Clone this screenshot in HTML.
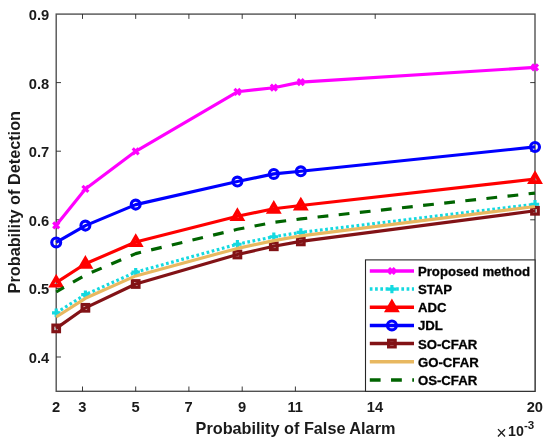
<!DOCTYPE html>
<html><head><meta charset="utf-8"><title>Probability of Detection vs Probability of False Alarm</title>
<style>
html,body{margin:0;padding:0;background:#fff;}
body{width:550px;height:447px;overflow:hidden;}
svg{display:block;}
text{font-family:"Liberation Sans",Arial,Helvetica,sans-serif;font-weight:bold;fill:#1a1a1a;}
.tick{font-size:14.7px;}
.lab{font-size:16.25px;}
.leg{font-size:13.2px;fill:#000;stroke:#000;stroke-width:0.3px;}
</style></head><body>
<svg width="550" height="447" viewBox="0 0 550 447">
<rect width="550" height="447" fill="#fff"/>
<rect x="56.2" y="14.1" width="478.8" height="377.2" fill="none" stroke="#262626" stroke-width="1.4" opacity="0.8"/>
<path d="M82.5 391.3V386.5M82.5 14.1V18.9M135.7 391.3V386.5M135.7 14.1V18.9M188.9 391.3V386.5M188.9 14.1V18.9M242.2 391.3V386.5M242.2 14.1V18.9M295.4 391.3V386.5M295.4 14.1V18.9M375.2 391.3V386.5M375.2 14.1V18.9M56.2 82.6H61.0M535.0 82.6H530.2M56.2 151.2H61.0M535.0 151.2H530.2M56.2 219.8H61.0M535.0 219.8H530.2M56.2 288.4H61.0M535.0 288.4H530.2M56.2 357.0H61.0M535.0 357.0H530.2" stroke="#262626" stroke-width="1" fill="none" opacity="0.9"/>
<polyline points="56.2,225.3 85.4,188.9 135.7,151.3 237.4,91.8 273.8,87.7 300.8,82.1 535.0,67.4" fill="none" stroke="#ff00ff" stroke-width="3.15" stroke-linejoin="round"/>
<path d="M53.23 222.33L59.17 228.27M53.23 228.27L59.17 222.33" stroke="#ff00ff" stroke-width="3.15" fill="none"/>
<path d="M82.43 185.93L88.37 191.87M82.43 191.87L88.37 185.93" stroke="#ff00ff" stroke-width="3.15" fill="none"/>
<path d="M132.73 148.33L138.67 154.27M132.73 154.27L138.67 148.33" stroke="#ff00ff" stroke-width="3.15" fill="none"/>
<path d="M234.43 88.83L240.37 94.77M234.43 94.77L240.37 88.83" stroke="#ff00ff" stroke-width="3.15" fill="none"/>
<path d="M270.83 84.73L276.77 90.67M270.83 90.67L276.77 84.73" stroke="#ff00ff" stroke-width="3.15" fill="none"/>
<path d="M297.83 79.13L303.77 85.07M297.83 85.07L303.77 79.13" stroke="#ff00ff" stroke-width="3.15" fill="none"/>
<path d="M532.03 64.43L537.97 70.37M532.03 70.37L537.97 64.43" stroke="#ff00ff" stroke-width="3.15" fill="none"/>
<polyline points="56.2,312.8 85.4,294.6 135.7,272.1 237.4,244.2 273.8,236.7 300.8,232.4 535.0,204.2" fill="none" stroke="#14d9e0" stroke-width="3.15" stroke-linejoin="round" stroke-dasharray="2.7 2.56"/>
<path d="M52.00 312.80L60.40 312.80M56.20 308.60L56.20 317.00" stroke="#14d9e0" stroke-width="3.15" fill="none"/>
<path d="M81.20 294.60L89.60 294.60M85.40 290.40L85.40 298.80" stroke="#14d9e0" stroke-width="3.15" fill="none"/>
<path d="M131.50 272.10L139.90 272.10M135.70 267.90L135.70 276.30" stroke="#14d9e0" stroke-width="3.15" fill="none"/>
<path d="M233.20 244.20L241.60 244.20M237.40 240.00L237.40 248.40" stroke="#14d9e0" stroke-width="3.15" fill="none"/>
<path d="M269.60 236.70L278.00 236.70M273.80 232.50L273.80 240.90" stroke="#14d9e0" stroke-width="3.15" fill="none"/>
<path d="M296.60 232.40L305.00 232.40M300.80 228.20L300.80 236.60" stroke="#14d9e0" stroke-width="3.15" fill="none"/>
<path d="M530.80 204.20L539.20 204.20M535.00 200.00L535.00 208.40" stroke="#14d9e0" stroke-width="3.15" fill="none"/>
<polyline points="56.2,282.6 85.4,263.8 135.7,242.0 237.4,216.2 273.8,208.8 300.8,205.5 535.0,179.0" fill="none" stroke="#ff0000" stroke-width="3.15" stroke-linejoin="round"/>
<path d="M56.20 277.35L61.01 285.68L51.39 285.68Z" stroke="#ff0000" stroke-width="3.6" fill="none" stroke-linejoin="miter"/>
<path d="M85.40 258.55L90.21 266.88L80.59 266.88Z" stroke="#ff0000" stroke-width="3.6" fill="none" stroke-linejoin="miter"/>
<path d="M135.70 236.75L140.51 245.08L130.89 245.08Z" stroke="#ff0000" stroke-width="3.6" fill="none" stroke-linejoin="miter"/>
<path d="M237.40 210.95L242.21 219.28L232.59 219.28Z" stroke="#ff0000" stroke-width="3.6" fill="none" stroke-linejoin="miter"/>
<path d="M273.80 203.55L278.61 211.88L268.99 211.88Z" stroke="#ff0000" stroke-width="3.6" fill="none" stroke-linejoin="miter"/>
<path d="M300.80 200.25L305.61 208.58L295.99 208.58Z" stroke="#ff0000" stroke-width="3.6" fill="none" stroke-linejoin="miter"/>
<path d="M535.00 173.75L539.81 182.08L530.19 182.08Z" stroke="#ff0000" stroke-width="3.6" fill="none" stroke-linejoin="miter"/>
<polyline points="56.2,242.4 85.4,225.6 135.7,204.6 237.4,181.5 273.8,173.9 300.8,171.3 535.0,146.9" fill="none" stroke="#0000ff" stroke-width="3.15" stroke-linejoin="round"/>
<circle cx="56.20" cy="242.40" r="4.45" stroke="#0000ff" stroke-width="3.15" fill="none"/>
<circle cx="85.40" cy="225.60" r="4.45" stroke="#0000ff" stroke-width="3.15" fill="none"/>
<circle cx="135.70" cy="204.60" r="4.45" stroke="#0000ff" stroke-width="3.15" fill="none"/>
<circle cx="237.40" cy="181.50" r="4.45" stroke="#0000ff" stroke-width="3.15" fill="none"/>
<circle cx="273.80" cy="173.90" r="4.45" stroke="#0000ff" stroke-width="3.15" fill="none"/>
<circle cx="300.80" cy="171.30" r="4.45" stroke="#0000ff" stroke-width="3.15" fill="none"/>
<circle cx="535.00" cy="146.90" r="4.45" stroke="#0000ff" stroke-width="3.15" fill="none"/>
<polyline points="56.2,328.4 85.4,307.8 135.7,284.0 237.4,254.5 273.8,246.3 300.8,241.4 535.0,210.8" fill="none" stroke="#821216" stroke-width="3.15" stroke-linejoin="round"/>
<rect x="52.90" y="325.10" width="6.6" height="6.6" stroke="#821216" stroke-width="3.15" fill="none"/>
<rect x="82.10" y="304.50" width="6.6" height="6.6" stroke="#821216" stroke-width="3.15" fill="none"/>
<rect x="132.40" y="280.70" width="6.6" height="6.6" stroke="#821216" stroke-width="3.15" fill="none"/>
<rect x="234.10" y="251.20" width="6.6" height="6.6" stroke="#821216" stroke-width="3.15" fill="none"/>
<rect x="270.50" y="243.00" width="6.6" height="6.6" stroke="#821216" stroke-width="3.15" fill="none"/>
<rect x="297.50" y="238.10" width="6.6" height="6.6" stroke="#821216" stroke-width="3.15" fill="none"/>
<rect x="531.70" y="207.50" width="6.6" height="6.6" stroke="#821216" stroke-width="3.15" fill="none"/>
<polyline points="56.2,317.0 85.4,298.3 135.7,275.9 237.4,248.4 273.8,240.6 300.8,235.9 535.0,206.5" fill="none" stroke="#e8b860" stroke-width="3.15" stroke-linejoin="round"/>
<polyline points="56.2,292.0 85.4,275.0 135.7,253.6 237.4,229.3 273.8,222.3 300.8,218.9 535.0,193.1" fill="none" stroke="#006400" stroke-width="3.15" stroke-linejoin="round" stroke-dasharray="10.8 10.43" stroke-dashoffset="1.8"/>
<text class="tick" text-anchor="middle" transform="translate(56.0 412.3) scale(1 1.0)">2</text>
<text class="tick" text-anchor="middle" transform="translate(82.3 412.3) scale(1 1.0)">3</text>
<text class="tick" text-anchor="middle" transform="translate(135.5 412.3) scale(1 1.0)">5</text>
<text class="tick" text-anchor="middle" transform="translate(188.7 412.3) scale(1 1.0)">7</text>
<text class="tick" text-anchor="middle" transform="translate(242.0 412.3) scale(1 1.0)">9</text>
<text class="tick" text-anchor="middle" transform="translate(295.2 412.3) scale(1 1.0)">11</text>
<text class="tick" text-anchor="middle" transform="translate(375.0 412.3) scale(1 1.0)">14</text>
<text class="tick" text-anchor="middle" transform="translate(534.8 412.3) scale(1 1.0)">20</text>
<text class="tick" text-anchor="end" transform="translate(49.2 20.4) scale(1 1.05)">0.9</text>
<text class="tick" text-anchor="end" transform="translate(49.2 88.5) scale(1 1.05)">0.8</text>
<text class="tick" text-anchor="end" transform="translate(49.2 156.7) scale(1 1.05)">0.7</text>
<text class="tick" text-anchor="end" transform="translate(49.2 225.6) scale(1 1.05)">0.6</text>
<text class="tick" text-anchor="end" transform="translate(49.2 294.2) scale(1 1.05)">0.5</text>
<text class="tick" text-anchor="end" transform="translate(49.2 363.2) scale(1 1.05)">0.4</text>
<text class="lab" text-anchor="middle" transform="translate(295.5 433.9) scale(1 1.0)">Probability of False Alarm</text>
<text class="lab" transform="translate(20.2 202.2) rotate(-90)" text-anchor="middle">Probability of Detection</text>
<text x="496.2" y="438.8" style="font-weight:normal;font-size:17.9px">×</text>
<text class="tick" x="508.0" y="436.1" style="font-size:14.2px">10</text>
<text x="524.0" y="428.8" style="font-size:11.6px">-3</text>
<rect x="365.5" y="259.9" width="169.5" height="131.4" fill="#fff" stroke="none"/><rect x="365.5" y="259.9" width="169.5" height="131.4" fill="none" stroke="#262626" stroke-width="1.1"/>
<path d="M369.8 271.0H414" stroke="#ff00ff" stroke-width="3.5" fill="none"/>
<path d="M388.93 268.03L394.87 273.97M388.93 273.97L394.87 268.03" stroke="#ff00ff" stroke-width="3.15" fill="none"/>
<text class="leg" transform="translate(417.9 276.0) scale(1 1.0)">Proposed method</text>
<path d="M369.8 289.1H414" stroke="#14d9e0" stroke-width="3.5" fill="none" stroke-dasharray="2.7 2.56"/>
<path d="M387.70 289.15L396.10 289.15M391.90 284.95L391.90 293.35" stroke="#14d9e0" stroke-width="3.15" fill="none"/>
<text class="leg" transform="translate(417.9 294.1) scale(1 1.0)">STAP</text>
<path d="M369.8 307.3H414" stroke="#ff0000" stroke-width="3.5" fill="none"/>
<path d="M391.90 302.05L396.71 310.38L387.09 310.38Z" stroke="#ff0000" stroke-width="3.6" fill="none" stroke-linejoin="miter"/>
<text class="leg" transform="translate(417.9 312.3) scale(1 1.0)">ADC</text>
<path d="M369.8 325.4H414" stroke="#0000ff" stroke-width="3.5" fill="none"/>
<circle cx="391.90" cy="325.45" r="4.45" stroke="#0000ff" stroke-width="3.15" fill="none"/>
<text class="leg" transform="translate(417.9 330.4) scale(1 1.0)">JDL</text>
<path d="M369.8 343.6H414" stroke="#821216" stroke-width="3.5" fill="none"/>
<rect x="388.60" y="340.30" width="6.6" height="6.6" stroke="#821216" stroke-width="3.15" fill="none"/>
<text class="leg" transform="translate(417.9 348.6) scale(1 1.0)">SO-CFAR</text>
<path d="M369.8 361.8H414" stroke="#e8b860" stroke-width="3.5" fill="none"/>
<text class="leg" transform="translate(417.9 366.8) scale(1 1.0)">GO-CFAR</text>
<path d="M369.8 379.9H414" stroke="#006400" stroke-width="3.5" fill="none" stroke-dasharray="10.8 10.43"/>
<text class="leg" transform="translate(417.9 384.9) scale(1 1.0)">OS-CFAR</text>
</svg></body></html>
